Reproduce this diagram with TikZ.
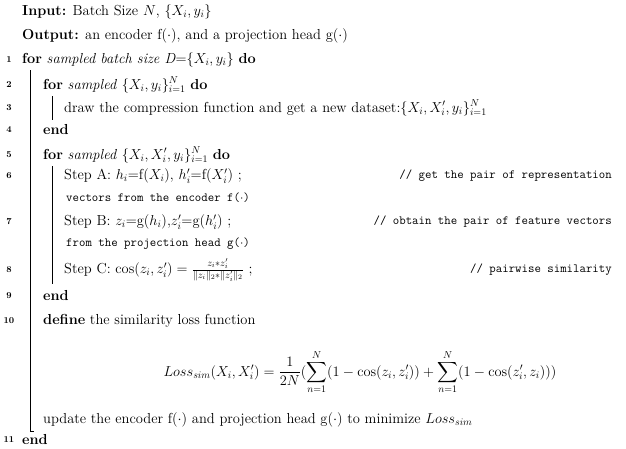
\documentclass[tikz,border=0pt]{standalone}
\usepackage{amsmath}
\begin{document}
\begin{tikzpicture}[x=1pt,y=-1pt,
  txt/.style={anchor=west,inner sep=0pt,font=\fontsize{14.5}{17}\selectfont},
  cmt/.style={anchor=east,inner sep=0pt,font=\fontsize{12.5}{15}\selectfont\ttfamily},
  num/.style={anchor=center,inner sep=0pt,font=\fontsize{9}{10}\selectfont\bfseries},
  bar/.style={line width=0.5pt}]
\useasboundingbox (0,0) rectangle (626,448);
\node[txt] (in) at (22,12) {\textbf{Input:} Batch Size $N$, $\{X_i,y_i\}$};
\node[txt] (out) at (22,36) {\textbf{Output:} an encoder f($\cdot$), and a projection head g($\cdot$)};
\foreach \n/\y in {1/60,2/85,3/108,4/130,5/155,6/176,7/222,8/270,9/296,10/321,11/440}
  \node[num] (n\n) at (9,\y) {\n};
\node[txt] (l1) at (22,60) {\textbf{for} \textit{sampled batch size D}=$\{X_i,y_i\}$ \textbf{do}};
\node[txt] (l2) at (43,85) {\textbf{for} \textit{sampled} $\{X_i,y_i\}_{i=1}^N$ \textbf{do}};
\node[txt] (l3) at (64,108) {draw the compression function and get a new dataset:$\{X_i,X_i',y_i\}_{i=1}^N$};
\node[txt] (l4) at (43,130) {\textbf{end}};
\node[txt] (l5) at (43,155) {\textbf{for} \textit{sampled} $\{X_i,X_i',y_i\}_{i=1}^N$ \textbf{do}};
\node[txt] (l6) at (64,176) {Step A: $h_i$=f($X_i$), $h_i'$=f($X_i'$) ;};
\node[cmt] (c6) at (612,176) {// get the pair of representation};
\node[cmt,anchor=west] (c6b) at (66,198) {vectors from the encoder f($\cdot$)};
\node[txt] (l7) at (64,222) {Step B: $z_i$=g($h_i$),$z_i'$=g($h_i'$) ;};
\node[cmt] (c7) at (612,222) {// obtain the pair of feature vectors};
\node[cmt,anchor=west] (c7b) at (66,244) {from the projection head g($\cdot$)};
\node[txt] (l8) at (64,270) {Step C: $\cos(z_i,z_i')=\frac{z_i*z_i'}{\|z_i\|_2*\|z_i'\|_2}$ ;};
\node[cmt] (c8) at (612,270) {// pairwise similarity};
\node[txt] (l9) at (43,296) {\textbf{end}};
\node[txt] (l10) at (43,321) {\textbf{define} the similarity loss function};
\node[txt,anchor=center] (eq) at (360,372) {$\displaystyle Loss_{sim}(X_i,X_i')=\frac{1}{2N}(\sum_{n=1}^{N}(1-\cos(z_i,z_i'))+\sum_{n=1}^{N}(1-\cos(z_i',z_i)))$};
\node[txt] (up) at (43,420) {update the encoder f($\cdot$) and projection head g($\cdot$) to minimize $Loss_{sim}$};
\node[txt] (l11) at (22,440) {\textbf{end}};
\draw[bar] (30,70) -- (30,431) -- (34,431);
\draw[bar] (52,96) -- (52,120);
\draw[bar] (52,166) -- (52,284);
\end{tikzpicture}
\end{document}
